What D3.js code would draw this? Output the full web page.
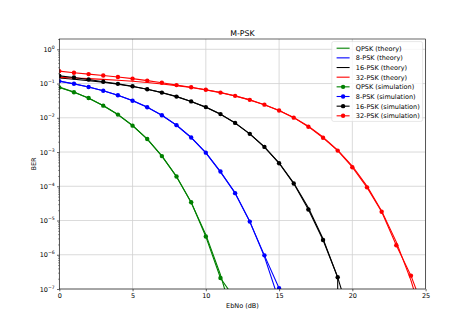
<!DOCTYPE html>
<html>
<head>
<meta charset="utf-8">
<script src="https://cdn.jsdelivr.net/npm/d3@7"></script>
<style>
  body { margin: 0; background: #fff; }
  svg { display: block; font-family: "DejaVu Sans", sans-serif; }
</style>
</head>
<body>
<svg id="chart" width="474" height="331"></svg>
<script>
// Eb/N0 sweep in dB
const ebNo = [0, 1, 2, 3, 4, 5, 6, 7, 8, 9, 10, 11, 12, 13, 14, 15, 16, 17, 18, 19, 20, 21, 22, 23, 24, 25];

// Theoretical BER curves
const qpskTheory = [0.0786, 0.0563, 0.0375, 0.0229, 0.0125, 0.00595, 0.00239, 7.7e-4, 1.91e-4, 3.36e-5, 3.87e-6, 2.6e-7, 9e-9];
const psk8Theory = [0.1162, 0.0978, 0.0792, 0.0615, 0.0456, 0.0318, 0.0205, 0.0119, 0.00607, 0.00265, 9.5e-4, 2.6e-4, 6.4e-5, 9.4e-6, 8.8e-7, 4.5e-8];
const psk16Theory = [0.1453, 0.1339, 0.1218, 0.1089, 0.0955, 0.0816, 0.0678, 0.0542, 0.0415, 0.0300, 0.0204, 0.0127, 0.0070, 0.0034, 0.0014, 4.85e-4, 1.25e-4, 2.35e-5, 2.93e-6, 2.19e-7, 8.6e-9];
const psk32Theory = [0.1513, 0.1456, 0.1393, 0.1323, 0.1246, 0.1163, 0.1072, 0.0975, 0.0872, 0.0765, 0.0654, 0.0543, 0.0435, 0.0333, 0.0241, 0.0164, 0.0102, 0.00564, 0.00274, 0.00113, 3.9e-4, 1.01e-4, 1.9e-5, 2.38e-6, 1.78e-7, 7.0e-9];

// Simulated BER (0 = no bit errors counted)
const qpskSim = [0.0772, 0.0558, 0.0379, 0.0226, 0.0124, 0.0059, 0.00241, 7.6e-4, 1.93e-4, 3.4e-5, 3.4e-6, 2.1e-7, 5e-8];
const psk8Sim = [0.1178, 0.0985, 0.0795, 0.0618, 0.0455, 0.0316, 0.0204, 0.0119, 0.0061, 0.00266, 9.6e-4, 2.7e-4, 6.3e-5, 9.3e-6, 9.6e-7, 1.05e-7, 0];
const psk16Sim = [0.168, 0.150, 0.131, 0.113, 0.098, 0.083, 0.0685, 0.0545, 0.0416, 0.0301, 0.0205, 0.0128, 0.0071, 0.0034, 0.00141, 4.7e-4, 1.2e-4, 2.1e-5, 2.7e-6, 2.2e-7, 0];
const psk32Sim = [0.231, 0.207, 0.189, 0.172, 0.155, 0.139, 0.122, 0.106, 0.090, 0.078, 0.066, 0.0545, 0.0437, 0.0334, 0.0242, 0.0163, 0.0101, 0.0055, 0.0026, 0.0011, 3.6e-4, 9.3e-5, 1.8e-5, 1.9e-6, 2.45e-7, 1.8e-8];

const xTicks = [0, 5, 10, 15, 20, 25];
const yTickExps = [0, -1, -2, -3, -4, -5, -6, -7];

const series = [
  { label: "QPSK (theory)", values: qpskTheory, color: "#008000", marker: false },
  { label: "8-PSK (theory)", values: psk8Theory, color: "#0000ff", marker: false },
  { label: "16-PSK (theory)", values: psk16Theory, color: "#000000", marker: false },
  { label: "32-PSK (theory)", values: psk32Theory, color: "#ff0000", marker: false },
  { label: "QPSK (simulation)", values: qpskSim, color: "#008000", marker: true },
  { label: "8-PSK (simulation)", values: psk8Sim, color: "#0000ff", marker: true },
  { label: "16-PSK (simulation)", values: psk16Sim, color: "#000000", marker: true },
  { label: "32-PSK (simulation)", values: psk32Sim, color: "#ff0000", marker: true }
];

const svg = d3.select("#chart");
const pL = 59.3, pR = 425.6, pT = 39, pB = 289;
const fs = 6.5;

const x = d3.scaleLinear().domain([0, 25]).range([pL, pR]);
const y = d3.scaleLog().domain([1e-7, 2]).range([pB, pT]);

svg.append("defs").append("clipPath").attr("id", "plot-clip")
  .append("rect").attr("x", pL).attr("y", pT)
  .attr("width", pR - pL).attr("height", pB - pT);

// grid
const grid = svg.append("g").attr("stroke", "#d0d0d0").attr("stroke-width", 0.8);
xTicks.forEach(t => grid.append("line")
  .attr("x1", x(t)).attr("x2", x(t)).attr("y1", pT).attr("y2", pB));
yTickExps.forEach(e => grid.append("line")
  .attr("x1", pL).attr("x2", pR).attr("y1", y(Math.pow(10, e))).attr("y2", y(Math.pow(10, e))));

// curves
const plot = svg.append("g").attr("clip-path", "url(#plot-clip)");
const line = d3.line()
  .x(d => x(d.x))
  .y(d => y(Math.max(d.y, 1e-300)));

series.forEach(s => {
  const pts = s.values.map((v, i) => ({ x: ebNo[i], y: v }));
  plot.append("path").datum(pts)
    .attr("d", line)
    .attr("fill", "none")
    .attr("stroke", s.color)
    .attr("stroke-width", 1.1)
    .attr("stroke-linejoin", "round");
  if (s.marker) {
    plot.selectAll(null).data(pts.filter(p => p.y > 0)).enter()
      .append("circle")
      .attr("cx", d => x(d.x)).attr("cy", d => y(d.y))
      .attr("r", 2.2).attr("fill", s.color);
  }
});

// axes
const xAxis = d3.axisBottom(x).tickValues(xTicks).tickSize(2.3).tickPadding(2.2).tickFormat(d3.format("d"));
const gx = svg.append("g").attr("transform", `translate(0,${pB})`).call(xAxis);
gx.select(".domain").remove();
gx.selectAll("line").attr("stroke", "#000").attr("stroke-width", 0.6);
gx.selectAll("text").attr("font-size", fs).attr("font-family", "DejaVu Sans").attr("fill", "#000");

const minorVals = [];
for (let e = -7; e <= 0; e++) {
  for (let m = 2; m <= 9; m++) {
    const v = m * Math.pow(10, e);
    if (v <= 2) minorVals.push(v);
  }
}
const yMinor = d3.axisLeft(y).tickValues(minorVals).tickSize(1.3).tickFormat("");
const gym = svg.append("g").attr("transform", `translate(${pL},0)`).call(yMinor);
gym.select(".domain").remove();
gym.selectAll("line").attr("stroke", "#000").attr("stroke-width", 0.4);

const yMajorVals = yTickExps.map(e => Math.pow(10, e));
const yAxis = d3.axisLeft(y).tickValues(yMajorVals).tickSize(2.3).tickFormat("");
const gy = svg.append("g").attr("transform", `translate(${pL},0)`).call(yAxis);
gy.select(".domain").remove();
gy.selectAll("line").attr("stroke", "#000").attr("stroke-width", 0.6);

// y tick labels as 10 with superscript exponent
yTickExps.forEach(e => {
  const t = svg.append("text")
    .attr("x", pL - 4.6)
    .attr("y", y(Math.pow(10, e)) + 2.6)
    .attr("text-anchor", "end")
    .attr("font-size", fs)
    .attr("fill", "#000");
  t.append("tspan").text("10");
  t.append("tspan").attr("dy", -3).attr("font-size", 4.6)
    .text(e < 0 ? "\u2212" + Math.abs(e) : String(e));
});

// frame
svg.append("rect").attr("x", pL).attr("y", pT)
  .attr("width", pR - pL).attr("height", pB - pT)
  .attr("fill", "none").attr("stroke", "#000").attr("stroke-width", 0.6);

// labels
svg.append("text").attr("x", (pL + pR) / 2).attr("y", 35.6)
  .attr("text-anchor", "middle").attr("font-size", 7.8).attr("fill", "#000").text("M-PSK");
svg.append("text").attr("x", (pL + pR) / 2).attr("y", 307.8)
  .attr("text-anchor", "middle").attr("font-size", fs).attr("fill", "#000").text("EbNo (dB)");
svg.append("text").attr("transform", `translate(35.8,${(pT + pB) / 2}) rotate(-90)`)
  .attr("text-anchor", "middle").attr("font-size", fs).attr("fill", "#000").text("BER");

// legend
const lg = svg.append("g");
const lx = 331.8, ly = 41.6, lw = 90.8, lh = 79.8;
lg.append("rect").attr("x", lx).attr("y", ly).attr("width", lw).attr("height", lh)
  .attr("rx", 1.8).attr("fill", "#fff").attr("fill-opacity", 0.8)
  .attr("stroke", "#d6d6d6").attr("stroke-width", 0.6);
series.forEach((s, i) => {
  const ry = 48.2 + i * 9.66;
  lg.append("line").attr("x1", 336.6).attr("x2", 349.6).attr("y1", ry).attr("y2", ry)
    .attr("stroke", s.color).attr("stroke-width", 1.1);
  if (s.marker) {
    lg.append("circle").attr("cx", 343.1).attr("cy", ry).attr("r", 2.2).attr("fill", s.color);
  }
  lg.append("text").attr("x", 355.8).attr("y", ry + 2.4)
    .attr("font-size", fs).attr("fill", "#000").text(s.label);
});
</script>
</body>
</html>
